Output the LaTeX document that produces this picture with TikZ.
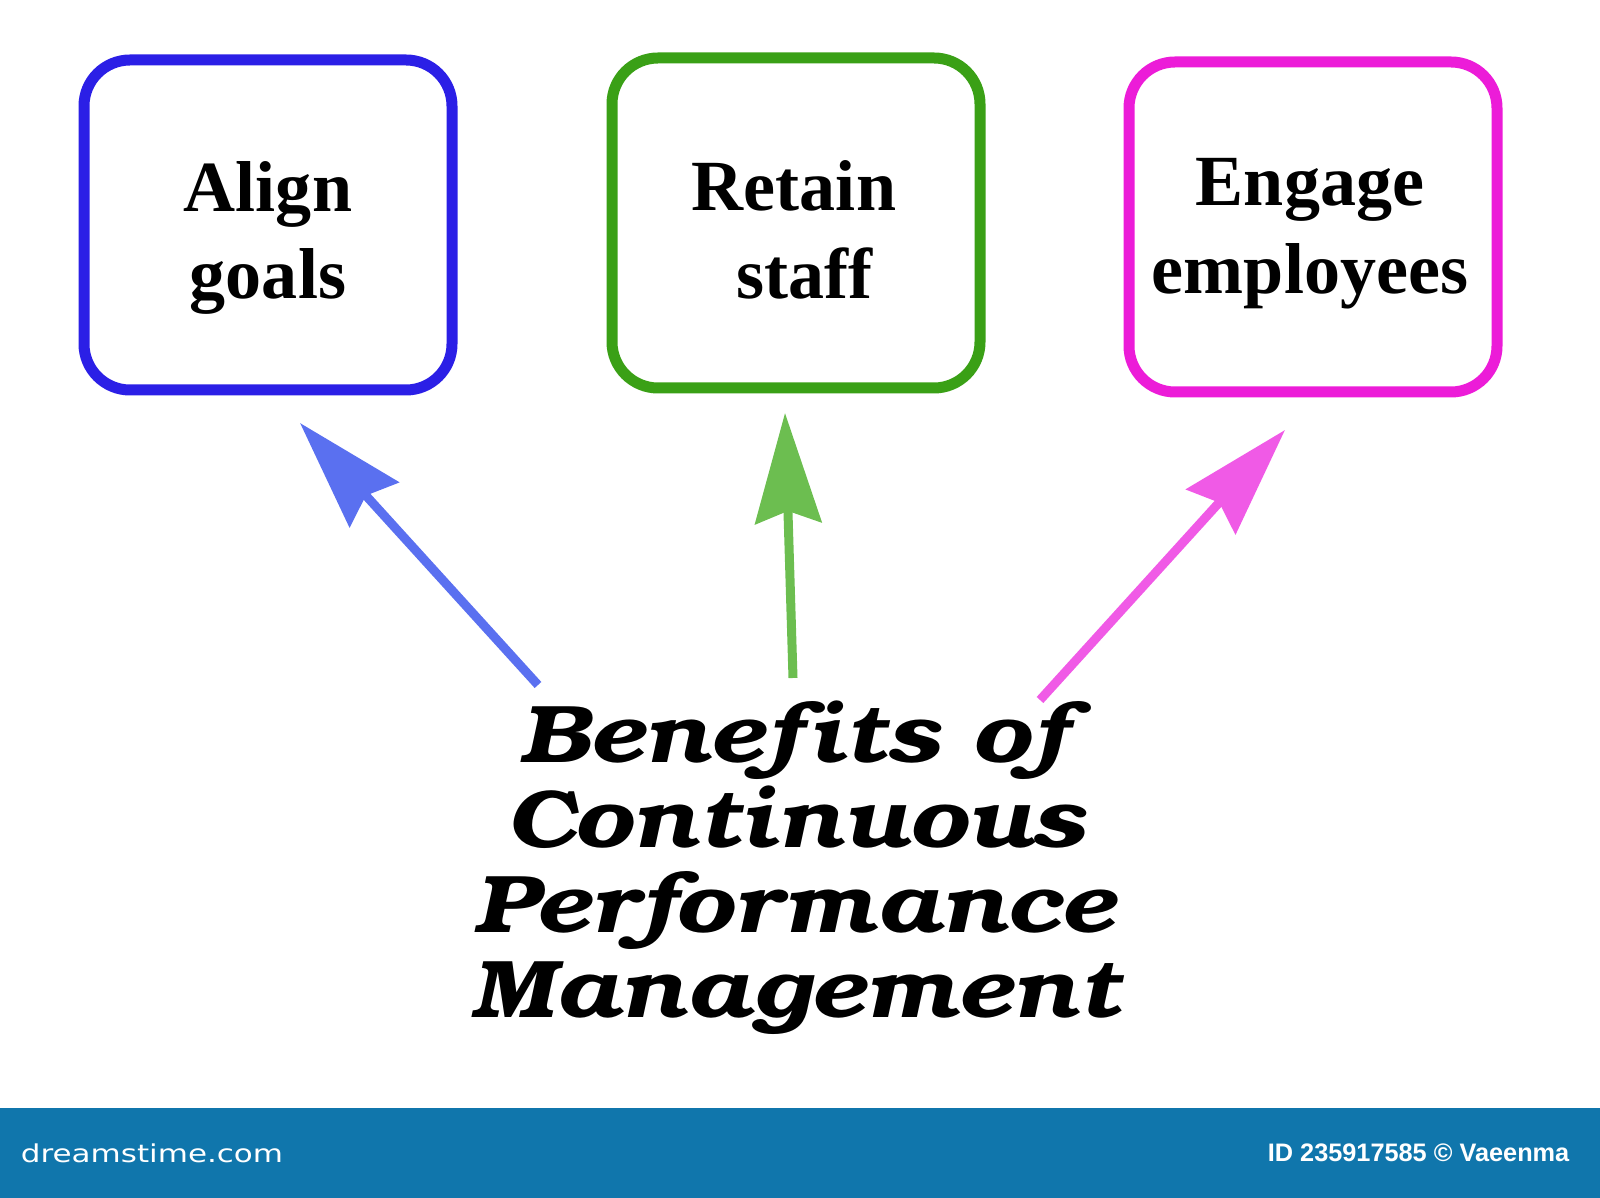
\documentclass[tikz,border=0pt]{standalone}
\usepackage{fontspec}
\setmainfont{Liberation Serif}
\newfontfamily\bonumfont[Ligatures = NoCommon]{TeX Gyre Bonum}
\newfontfamily\logofont{DejaVu Sans}
\newfontfamily\idfont{Liberation Sans}
\usepackage{tikz}
\usetikzlibrary{arrows.meta, positioning}
\tikzset{>=latex}
\definecolor{boxblue}{RGB}{43, 31, 230}
\definecolor{arrowblue}{RGB}{90, 112, 240}
\definecolor{boxgreen}{RGB}{58, 160, 22}
\definecolor{arrowgreen}{RGB}{108, 190, 80}
\definecolor{boxpink}{RGB}{236, 28, 216}
\definecolor{arrowpink}{RGB}{240, 90, 230}
\definecolor{barblue}{RGB}{16, 118, 172}
\tikzset{box/.style = {draw, line width = 1.1mm, rounded corners = 4.6mm, minimum width = 36.8mm, minimum height = 33mm, inner sep = 0pt},
boxtext/.style = {align = center, inner sep = 0pt, font = \bfseries\fontsize{20.5}{25}\selectfont},
benefit/.style = {line width = 0.9mm, -{Stealth[length = 11mm, width = 6.6mm, inset = 1.2mm]}}}

\begin{document}
\begin{tikzpicture}[x = 0.1mm, y = -0.1mm]
\useasboundingbox (0,0) rectangle (1600,1198);

\node[box, boxblue] (alignbox) at (268,225) {};
\node[box, boxgreen] (retainbox) at (796,223) {};
\node[box, boxpink] (engagebox) at (1313,227) {};

\node[boxtext] (aligntext) at (268,238) {Align\\goals};
\node[boxtext] (retaintext) at (794,230) {Retain\\\hspace*{0.3em}staff};
\node[boxtext] (engagetext) at (1310,234) {Engage\\employees};

\node[align = center, inner sep = 0pt, transform shape, xscale = 1.18, font = \bonumfont\bfseries\itshape\fontsize{23.3}{24.2}\selectfont] (benefits) at (795,868) {Benefits of\\Continuous\\Performance\\Management};

\coordinate (goals tail) at (538,685);
\coordinate (goals tip) at (300,423);
\coordinate (staff tail) at (793,678);
\coordinate (staff tip) at (785,413);
\coordinate (employees tail) at (1040,700);
\coordinate (employees tip) at (1285,430);

\draw[benefit, arrowblue] (goals tail) -- (goals tip);
\draw[benefit, arrowgreen] (staff tail) -- (staff tip);
\draw[benefit, arrowpink] (employees tail) -- (employees tip);

\fill[barblue] (0,1108) rectangle (1600,1198);
\node[anchor = base west, inner sep = 0pt, white, transform shape, xscale = 1.26, font = \logofont\fontsize{7}{8}\selectfont] (logo) at (20,1163) {dreamstime.com};
\node[anchor = base east, inner sep = 0pt, white, font = \idfont\bfseries\fontsize{7.2}{8}\selectfont] (imageid) at (1570,1162) {ID 235917585 © Vaeenma};

\end{tikzpicture}
\end{document}
